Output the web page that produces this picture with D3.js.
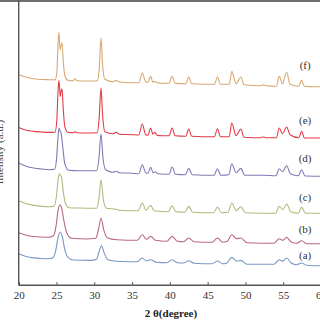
<!DOCTYPE html>
<html lang="en">
<head>
  <meta charset="UTF-8">
  <title>XRD patterns</title>
  <script src="https://d3js.org/d3.v7.min.js"></script>
  <style>
    body { margin: 0; background: #fff; }
    svg { display: block; }
  </style>
</head>
<body>
  <svg width="320" height="320"></svg>

  <script>
    // x ticks (2 theta, degree)
    const xTicks = [20, 25, 30, 35, 40, 45, 50, 55, 60];

    // sample names, top to bottom
    const sampleNames = ["(f)", "(e)", "(d)", "(c)", "(b)", "(a)"];
    const sampleColors = ["#d8a873", "#e23a46", "#7c7cb4", "#adbb7e", "#b86a7a", "#7898c2"];
    // where each label sits (2 theta, intensity)
    const labelTheta = 57.9;
    const labelLevel = [220, 165, 127, 88, 56, 30];

    // patterns, [2 theta, intensity (a.u., offset)]
    const patternF = [
      [20, 210], [21, 207.5], [22, 206], [23, 205.2], [24, 205], [24.8, 204.8],
      [25.05, 212], [25.2, 240], [25.33, 252.3], [25.48, 235], [25.6, 239], [25.73, 242],
      [25.9, 223], [26.1, 209], [26.5, 204.5], [27.2, 204], [27.45, 206], [27.7, 204],
      [29, 203.7], [30.4, 204], [30.65, 215], [30.89, 246.7], [31.1, 220], [31.4, 205.5],
      [32.5, 203], [32.9, 204.5], [33.3, 202.7], [35, 202], [35.9, 202], [36.35, 211.7],
      [36.8, 203], [37.1, 202.5], [37.46, 208.3], [37.75, 202.5], [38.0, 203.5], [38.3, 202],
      [39, 201.5], [39.9, 201.5], [40.3, 208.3], [40.7, 201.5], [42.1, 201], [42.5, 207.7],
      [42.9, 201], [45.9, 200.5], [46.3, 207.7], [46.7, 200.5], [47.85, 200.5], [48.2, 213.3],
      [48.75, 201], [49.4, 207.7], [49.8, 200], [52.0, 199], [52.35, 199.8], [52.7, 199],
      [54.1, 198.5], [54.47, 208.3], [54.9, 201], [55.45, 212.7], [55.9, 200.5], [57.05, 198.5],
      [57.43, 204.3], [57.8, 198.5], [59, 198], [60, 198]
    ];
    const patternE = [
      [20, 157.3], [21, 154.5], [22, 153.3], [23, 152.7], [24, 152.3], [24.8, 152.5],
      [25.05, 165], [25.2, 193], [25.33, 204.3], [25.5, 188], [25.6, 193], [25.73, 196],
      [25.9, 175], [26.1, 158], [26.5, 152.5], [27.2, 152], [27.45, 153], [27.7, 152],
      [29, 151.7], [30.4, 152], [30.65, 167], [30.89, 196.7], [31.1, 170], [31.4, 153],
      [32.5, 151], [32.9, 152.5], [33.3, 150.5], [35, 150], [35.9, 149.7], [36.35, 160.7],
      [36.8, 150], [37.1, 149.5], [37.46, 156.7], [37.75, 150.5], [38.0, 152.3], [38.3, 149.5],
      [39, 149], [39.9, 149], [40.3, 156.7], [40.7, 149], [42.1, 148.5], [42.5, 155.7],
      [42.9, 148.5], [45.9, 148], [46.3, 156], [46.7, 148], [47.85, 148], [48.2, 161.7],
      [48.75, 149], [49.4, 155.7], [49.8, 147.5], [52.0, 147], [52.35, 147.7], [52.7, 147],
      [54.1, 147], [54.47, 156.7], [54.9, 151], [55.45, 157.7], [55.9, 150], [57.05, 147],
      [57.43, 153.3], [57.8, 146.7], [59, 146.7], [60, 146.7]
    ];
    const patternD = [
      [20, 121.7], [21, 118.5], [22, 116.7], [23, 115.7], [24, 115], [24.75, 115.5],
      [25.0, 125], [25.2, 147], [25.33, 156.7], [25.45, 154], [25.6, 152], [25.8, 140],
      [26.1, 121], [26.6, 114.5], [28, 114], [30.3, 114], [30.6, 125], [30.89, 150.7],
      [31.15, 127], [31.5, 115], [32.5, 112.5], [32.9, 113.5], [33.3, 112], [35, 111.5],
      [35.9, 111], [36.35, 120], [36.8, 112], [37.1, 111.5], [37.46, 117.3], [37.8, 112],
      [38.05, 113], [38.4, 111], [39.9, 110.5], [40.3, 117.7], [40.75, 110.5], [42.05, 110],
      [42.5, 116.3], [42.95, 110], [45.85, 109.5], [46.3, 116], [46.75, 109.5], [47.8, 110],
      [48.2, 121], [48.75, 112], [49.4, 116.3], [49.9, 109.5], [52.35, 109.5], [54.05, 109],
      [54.47, 116], [54.9, 113], [55.45, 119], [55.95, 111], [57.0, 109], [57.43, 115],
      [57.9, 108.7], [60, 108.5]
    ];
    const patternC = [
      [20, 84], [21, 81], [22, 79.3], [23, 78.3], [24, 78], [24.7, 78.5],
      [25.0, 89], [25.2, 104], [25.35, 111], [25.5, 109.5], [25.65, 108], [25.9, 93],
      [26.2, 81], [26.7, 77], [28, 76.7], [30.3, 76.5], [30.6, 85], [30.89, 105],
      [31.2, 85], [31.6, 76.5], [32.9, 75.5], [33.3, 74.5], [35.8, 74], [36.35, 81.7],
      [36.85, 74.5], [37.46, 79.3], [37.9, 74], [39.8, 73], [40.3, 79], [40.8, 73],
      [42.0, 72.5], [42.5, 78.3], [43.0, 72.5], [45.8, 72], [46.3, 77.7], [46.8, 72],
      [47.7, 72.5], [48.2, 81.7], [48.8, 74], [49.4, 78], [50, 72], [54.0, 71.5],
      [54.47, 78.3], [54.95, 75], [55.45, 80.7], [56.0, 73], [57.0, 71.5], [57.43, 77.3],
      [57.95, 71.5], [60, 71.5]
    ];
    const patternB = [
      [20, 52], [21, 49.5], [22, 48.2], [23, 47.7], [24, 47.5], [24.6, 49],
      [24.95, 59], [25.2, 74], [25.45, 80], [25.7, 76], [26.0, 63], [26.4, 51],
      [27, 46.5], [29, 45.7], [30.2, 46.5], [30.55, 55], [30.89, 66.7], [31.25, 55],
      [31.7, 47], [33, 45], [35.7, 44.5], [36.35, 50], [36.9, 45.5], [37.46, 48.3],
      [38.1, 44.5], [39.6, 43.5], [40.3, 48.3], [41, 43.5], [41.8, 43], [42.5, 46.7],
      [43.2, 43], [45.6, 42.5], [46.3, 46.7], [47.0, 42.5], [47.6, 43.5], [48.2, 50],
      [48.8, 46], [49.4, 46.7], [50.2, 42], [53.8, 41.5], [54.47, 46], [54.95, 44.5],
      [55.45, 47.3], [56.1, 42.5], [56.8, 41.5], [57.43, 44], [58.1, 41], [60, 41]
    ];
    const patternA = [
      [20, 31], [21, 28.2], [22, 26.8], [23, 26.2], [24, 26], [24.6, 27.5],
      [24.95, 36], [25.2, 47], [25.5, 52.7], [25.8, 47], [26.1, 35], [26.5, 27.5],
      [27.2, 24.7], [29.5, 24.3], [30.3, 25.5], [30.6, 32], [30.95, 39], [31.3, 32],
      [31.8, 25], [33, 23.5], [35.7, 23], [36.35, 26.7], [36.9, 23.7], [37.46, 25],
      [38.2, 22.5], [39.6, 22], [40.3, 25], [41, 22], [41.8, 21.7], [42.5, 24],
      [43.2, 21.5], [45.6, 21], [46.3, 23.7], [47.0, 21], [47.5, 21.5], [48.2, 27.3],
      [48.85, 23.5], [49.4, 24.3], [50.2, 20.5], [53.8, 20.5], [54.47, 25], [54.95, 23.5],
      [55.45, 26.7], [56.1, 21.5], [56.8, 20], [57.43, 21.7], [58.1, 19.5], [60, 19]
    ];
    const patterns = [patternF, patternE, patternD, patternC, patternB, patternA];

    const svg = d3.select("svg");
    const serif = "'Liberation Serif', 'Times New Roman', serif";

    const x = d3.scaleLinear().domain([20, 60]).range([18.7, 321]);
    const y = d3.scaleLinear().domain([0, 285]).range([284.7, -0.3]);

    // top frame line
    svg.append("line")
      .attr("x1", 0).attr("x2", 320)
      .attr("y1", 1).attr("y2", 1)
      .attr("stroke", "#6e6e6e")
      .attr("stroke-width", 2.2);

    // curves
    const line = d3.line()
      .x(d => x(d[0]))
      .y(d => y(d[1]))
      .curve(d3.curveMonotoneX);

    svg.selectAll("path.pattern")
      .data(patterns)
      .enter().append("path")
      .attr("class", "pattern")
      .attr("d", line)
      .attr("fill", "none")
      .attr("stroke", (d, i) => sampleColors[i])
      .attr("stroke-width", 1.1);

    // sample labels
    svg.selectAll("text.sample")
      .data(sampleNames)
      .enter().append("text")
      .attr("class", "sample")
      .attr("x", x(labelTheta))
      .attr("y", (d, i) => y(labelLevel[i]))
      .attr("dy", "0.35em")
      .attr("text-anchor", "middle")
      .attr("font-family", serif)
      .attr("font-size", 11)
      .attr("fill", "#333")
      .text(d => d);

    // x axis, ticks pointing inwards
    const xAxis = d3.axisBottom(x)
      .tickValues(xTicks)
      .tickSize(-2.5)
      .tickPadding(7)
      .tickFormat(d3.format("d"));

    const gx = svg.append("g")
      .attr("transform", "translate(0," + y(0) + ")")
      .call(xAxis);
    gx.select(".domain").attr("stroke", "#555").attr("stroke-width", 1.4);
    gx.selectAll(".tick line").attr("stroke", "#444");
    gx.selectAll(".tick text")
      .attr("font-family", serif)
      .attr("font-size", 11)
      .attr("fill", "#333");

    // left axis line
    svg.append("line")
      .attr("x1", x(20)).attr("x2", x(20))
      .attr("y1", 0).attr("y2", y(0))
      .attr("stroke", "#555")
      .attr("stroke-width", 1.4);

    // axis titles
    svg.append("text")
      .attr("x", 171)
      .attr("y", 317)
      .attr("text-anchor", "middle")
      .attr("font-family", serif)
      .attr("font-size", 11)
      .attr("font-weight", "bold")
      .attr("fill", "#222")
      .text("2 \u03b8(degree)");

    // y title is cut by the left edge, as in the source figure
    svg.append("text")
      .attr("transform", "translate(3,152) rotate(-90)")
      .attr("text-anchor", "middle")
      .attr("font-family", serif)
      .attr("font-size", 11)
      .attr("fill", "#444")
      .text("Intensity (a.u.)");
  </script>
</body>
</html>
